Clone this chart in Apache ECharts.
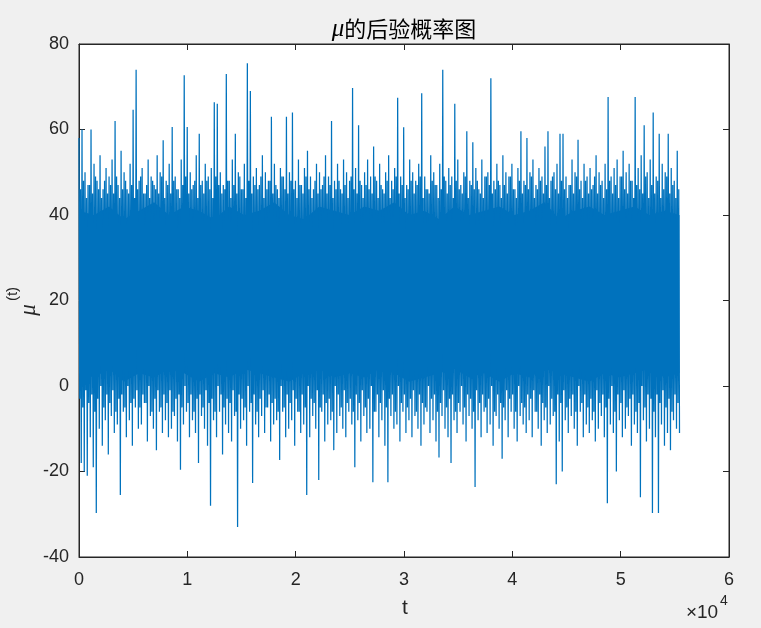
<!DOCTYPE html>
<html>
<head>
<meta charset="utf-8">
<script src="https://cdn.jsdelivr.net/npm/echarts@6/dist/echarts.min.js"></script>
<style>
html,body{margin:0;padding:0;background:#f0f0f0;}
#c{width:761px;height:628px;}
</style>
</head>
<body>
<div id="c"></div>
<script>
// Per-bin upper extremes of the trace
const hiVals = [
58,60,50,47,60,52,48,54,46,51,
49,53,62,47,55,50,46,52,64.6,74,
48,51,45,53,49,47,54,50,57.5,48,
52,60.6,49,46,53,72.7,60.6,50,47,54,
59,48,52,49,51,66.4,66,50,47,73,
48,53,59,50,46,52,75.5,69,49,51,
47,54,50,48,63,52,46,51,49,63,
50,64,48,53,47,51,55,49,46,52,
50,47,54,49,62,48,52,46,53,50,
48,69.7,51,61,47,50,53,49,56,48,
52,46,50,54,48,51,67.4,49,60.5,47,
53,50,48,52,68.5,49,46,54,50,47,
52,74,48,51,49,66,53,47,50,59.6,
48,57,51,46,53,49,50,72,48,52,
47,54,50,49,52,46,51,59.6,48,58,
50,53,47,51,49,56,59.6,48,50,52,
59,59,49,47,53,50,57.6,48,52,49,
51,47,54,50,48,52,67.6,49,51,53,
49,55,50,52,48,67.6,51,54,61,50,
53,64,49,59,52,50,59,51,48,55
];
// Per-bin secondary upper peaks
const midHiVals = [
46,48,44,47,45,49,46,44,48,45,
47,45,49,44,46,48,45,47,44,46,
49,45,47,44,48,46,45,49,44,47,
45,48,46,44,47,49,45,46,48,44,
47,45,48,46,44,49,47,45,46,48,
44,47,45,49,46,44,48,45,47,46,
49,44,46,48,45,47,44,49,46,45,
48,46,44,47,45,49,46,44,48,45,
46,49,45,47,44,46,48,45,47,44,
49,46,45,48,44,47,46,45,49,44,
47,45,48,44,46,49,45,47,44,46,
48,45,47,49,44,46,45,48,47,44,
46,49,45,47,44,48,46,45,49,44,
47,46,48,45,44,49,47,45,46,48,
44,47,45,49,46,44,48,45,47,46,
49,44,46,48,45,47,44,49,46,45,
48,46,44,47,45,49,46,44,48,45,
46,49,45,47,44,46,48,45,47,44,
49,46,45,48,44,47,46,45,49,44,
47,45,48,44,46,49,45,47,44,46
];
// Per-bin secondary lower troughs
const midLoVals = [
-3,-5,-1,-4,-2,-6,-3,0,-5,-2,
-4,-1,-6,-3,-2,-5,0,-4,-3,-1,
-5,-2,-4,0,-6,-3,-1,-5,-2,-4,
-1,-6,-3,-2,-5,0,-4,-2,-6,-3,
-2,-5,-1,-4,-3,-6,0,-2,-5,-3,
-4,-1,-6,-2,-3,-5,0,-4,-2,-6,
-3,-1,-5,-2,-4,-3,-6,0,-5,-2,
-4,-1,-3,-6,-2,-5,0,-3,-4,-1,
-5,-2,-4,-3,-6,0,-2,-5,-1,-4,
-3,-6,-2,-4,-1,-5,-3,0,-6,-2,
-4,-1,-5,-3,-2,-6,0,-4,-2,-5,
-3,-1,-6,-2,-4,-5,0,-3,-2,-6,
-4,-1,-5,-3,-2,-6,-4,0,-5,-2,
-3,-6,-1,-4,-2,-5,-3,0,-6,-2,
-4,-5,-1,-3,-2,-6,0,-4,-5,-2,
-3,-1,-6,-2,-4,-5,0,-3,-6,-2,
-4,-1,-5,-3,-2,-6,0,-4,-2,-5,
-3,-6,-1,-4,-2,-5,-3,0,-6,-2,
-4,-1,-5,-3,-2,-6,-4,0,-5,-2,
-3,-6,-2,-4,-1,-5,-3,-6,-2,-4
];
// Per-bin lower extremes of the trace
const loVals = [
-18,-20,-21,-12,-19,-29.7,-10,-14,-8,-16,
-7,-11,-9,-25.5,-6,-12,-8,-14,-5,-10,
-9,-4,-13,-7,-10,-15,-6,-11,-8,-12,
-10,-7,-13,-19.6,-9,-6,-12,-8,-11,-18,
-7,-10,-14,-28,-8,-12,-6,-16,-9,-11,
-13,-7,-33,-10,-8,-14,-6,-22.7,-9,-12,
-7,-11,-5,-13,-9,-8,-17.3,-6,-12,-10,
-8,-14,-6,-11,-9,-25.5,-12,-7,-10,-22,
-6,-13,-9,-8,-15,-11,-7,-10,-12,-6,
-9,-19,-8,-13,-7,-11,-10,-22.5,-6,-12,
-8,-14,-22.5,-7,-10,-9,-13,-6,-11,-8,
-12,-7,-10,-14,-9,-6,-11,-8,-13,-16.7,
-7,-10,-12,-18,-8,-11,-6,-9,-13,-7,
-10,-23.6,-8,-12,-6,-11,-9,-14,-7,-10,
-17,-8,-12,-6,-10,-13,-7,-9,-11,-8,
-12,-6,-10,-14,-8,-11,-9,-7,-23,-13,
-20,-8,-11,-7,-10,-14,-6,-12,-9,-11,
-8,-13,-10,-7,-12,-27.4,-9,-11,-20,-8,
-12,-10,-7,-14,-9,-11,-26,-8,-13,-10,
-29.7,-12,-29.7,-9,-14,-11,-15,-8,-10,-11
];
// Top and bottom of the solid (dense) core of the trace, coarse bins
const coreTop = [41,40,42,39,41,43,40,42,41,39,42,40,41,43,40,39,42,41,40,42,41,43,40,41,39,42,40,41,42,40,41,43,39,41,42,40,41,42,40,41,40];
const coreBot = [3,2,4,1,3,2,4,3,1,3,2,4,3,2,1,3,4,2,3,2,4,3,1,2,3,4,2,3,1,3,2,4,3,2,1,3,2,3,4,2,3];
const tEnd = 55500;          // last iteration index
const xTicks = [0,1,2,3,4,5,6];       // ×10^4
const yTicks = [-40,-20,0,20,40,60,80];

const binW = tEnd / hiVals.length;
const data = [];
for (let i = 0; i < hiVals.length; i++) {
  data.push([i * binW, hiVals[i]]);
  data.push([(i + 0.25) * binW, midLoVals[i]]);
  data.push([(i + 0.5) * binW, midHiVals[i]]);
  data.push([(i + 0.75) * binW, loVals[i]]);
}
const coreW = (tEnd - binW / 4) / (coreTop.length - 1);

const axisCol = '#262626';
const blue = '#0072BD';
const font = '"Liberation Sans", Arial, sans-serif';
const chart = echarts.init(document.getElementById('c'), null, {renderer: 'canvas'});
chart.setOption({
  animation: false,
  backgroundColor: '#f0f0f0',
  grid: {left: 79, right: 32, top: 44, bottom: 71, show: true, backgroundColor: '#ffffff', borderColor: axisCol, borderWidth: 1},
  xAxis: [{
    type: 'value', min: xTicks[0] * 10000, max: xTicks[xTicks.length - 1] * 10000, interval: 10000,
    axisLine: {show: true, onZero: false, lineStyle: {color: axisCol}},
    axisTick: {show: true, inside: true, length: 6, lineStyle: {color: axisCol}},
    splitLine: {show: false},
    axisLabel: {color: axisCol, fontSize: 18, fontFamily: font, margin: 14, formatter: v => String(v / 10000)}
  }, {
    type: 'value', position: 'top', min: 0, max: 60000, interval: 10000,
    axisLine: {show: true, onZero: false, lineStyle: {color: axisCol}},
    axisTick: {show: true, inside: true, length: 6, lineStyle: {color: axisCol}},
    splitLine: {show: false}, axisLabel: {show: false}
  }],
  yAxis: [{
    type: 'value', min: yTicks[0], max: yTicks[yTicks.length - 1], interval: 20,
    axisLine: {show: true, onZero: false, lineStyle: {color: axisCol}},
    axisTick: {show: true, inside: true, length: 6, lineStyle: {color: axisCol}},
    splitLine: {show: false},
    axisLabel: {color: axisCol, fontSize: 18, fontFamily: font, margin: 10}
  }, {
    type: 'value', position: 'right', min: -40, max: 80, interval: 20,
    axisLine: {show: true, onZero: false, lineStyle: {color: axisCol}},
    axisTick: {show: true, inside: true, length: 6, lineStyle: {color: axisCol}},
    splitLine: {show: false}, axisLabel: {show: false}
  }],
  series: [{
    type: 'custom', xAxisIndex: 0, yAxisIndex: 0, z: 1, silent: true,
    data: [[0, coreTop[0]]],
    renderItem: function (params, api) {
      const pts = [];
      for (let i = 0; i < coreTop.length; i++) pts.push(api.coord([i * coreW, coreTop[i]]));
      for (let i = coreBot.length - 1; i >= 0; i--) pts.push(api.coord([i * coreW, coreBot[i]]));
      return {type: 'polygon', shape: {points: pts}, style: {fill: blue}};
    }
  }, {
    type: 'line', xAxisIndex: 0, yAxisIndex: 0,
    data: data, showSymbol: false, symbol: 'none', sampling: null,
    lineStyle: {color: blue, width: 1.25}, z: 2
  }],
  graphic: [
    {type: 'text', x: 404, y: 29, z: 10,
     style: {text: '{m|μ}{c|的后验概率图}', align: 'center', verticalAlign: 'middle',
       rich: {m: {fontFamily: '"Liberation Serif", "DejaVu Serif", serif', fontStyle: 'italic', fontSize: 25, fill: '#000'},
              c: {fontFamily: '"Noto Sans CJK SC", sans-serif', fontSize: 22, fill: '#000'}}}},
    {type: 'text', x: 405, y: 608, z: 10,
     style: {text: 't', align: 'center', verticalAlign: 'middle', fontFamily: font, fontSize: 21, fill: axisCol}},
    {type: 'text', x: 29, y: 310, rotation: Math.PI / 2, z: 10,
     style: {text: 'μ', align: 'center', verticalAlign: 'middle', fontFamily: '"Liberation Serif", "DejaVu Serif", serif', fontStyle: 'italic', fontSize: 23, fill: axisCol}},
    {type: 'text', x: 13, y: 294, rotation: Math.PI / 2, z: 10,
     style: {text: '(t)', align: 'center', verticalAlign: 'middle', fontFamily: font, fontSize: 15, fill: axisCol}},
    {type: 'text', x: 702, y: 613, z: 10,
     style: {text: '×10', align: 'center', verticalAlign: 'middle', fontFamily: font, fontSize: 19, fill: axisCol}},
    {type: 'text', x: 724, y: 601, z: 10,
     style: {text: '4', align: 'center', verticalAlign: 'middle', fontFamily: font, fontSize: 14, fill: axisCol}}
  ]
});
</script>
</body>
</html>
